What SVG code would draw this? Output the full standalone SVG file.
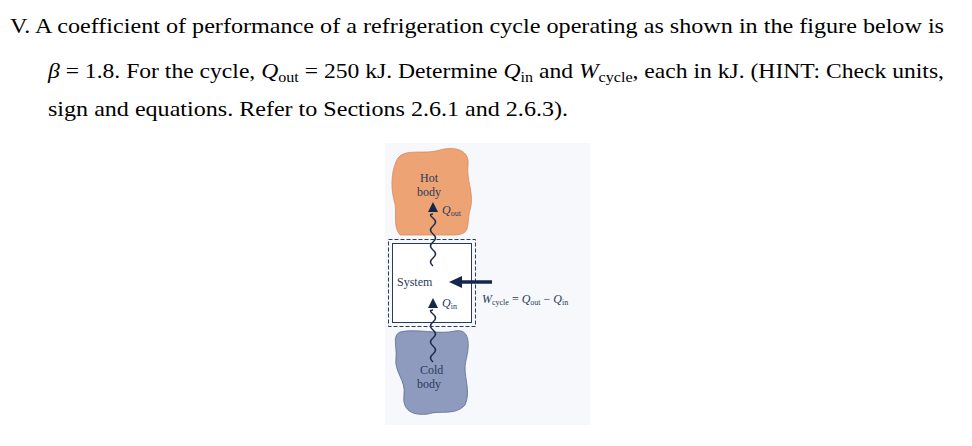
<svg xmlns="http://www.w3.org/2000/svg" width="972" height="446" viewBox="0 0 972 446">
<style>
.t{font-family:"Liberation Serif",serif;font-size:22px;fill:#000}
.f{font-family:"Liberation Serif",serif;font-size:12px;fill:#2a3a5a}
.w{fill:none;stroke:#1e2a4a;stroke-width:1.6}
.h{fill:#14264e}
</style>
<rect width="972" height="446" fill="#fff"/>
<text class="t" x="10" y="33" textLength="934" lengthAdjust="spacingAndGlyphs">V. A coefficient of performance of a refrigeration cycle operating as shown in the figure below is</text>
<text class="t" x="48" y="78" textLength="896" lengthAdjust="spacingAndGlyphs"><tspan font-style="italic">β</tspan> = 1.8. For the cycle, <tspan font-style="italic">Q</tspan><tspan font-size="15" dy="4">out</tspan><tspan dy="-4"> = 250 kJ. Determine </tspan><tspan font-style="italic">Q</tspan><tspan font-size="15" dy="4">in</tspan><tspan dy="-4"> and </tspan><tspan font-style="italic">W</tspan><tspan font-size="15" dy="4">cycle</tspan><tspan dy="-4">, each in kJ. (HINT: Check units,</tspan></text>
<text class="t" x="48" y="116" textLength="520" lengthAdjust="spacingAndGlyphs">sign and equations. Refer to Sections 2.6.1 and 2.6.3).</text>
<rect x="385" y="143" width="205" height="282" fill="#f6f8fb"/>
<g id="hot"><path d="M398,158 C405,148 425,155 440,150 C455,146 470,150 468,165 C466,180 475,195 470,210 C466,225 472,234 455,235 L400,235 C392,225 398,212 394,200 C390,185 392,168 398,158Z" fill="#eea374" stroke="#d88a5a" stroke-width="0.8"/>
<text class="f" x="420" y="182">Hot</text><text class="f" x="417" y="196">body</text></g>
<g id="system"><rect x="388.5" y="239.5" width="87" height="87" fill="none" stroke="#2a3a5a" stroke-dasharray="4,2"/>
<rect x="392.5" y="243.5" width="79" height="79" fill="#fff" stroke="#2a3a5a"/>
<text class="f" x="397" y="286">System</text></g>
<g id="cold"><path d="M400,332 C415,328 440,335 455,331 C470,328 470,345 466,360 C462,375 472,390 465,405 C455,416 440,410 428,414 C412,416 402,410 404,395 C406,380 394,372 396,358 C397,345 392,336 400,332Z" fill="#8e9bbf" stroke="#5c6a90" stroke-width="0.8"/>
<text class="f" x="420" y="374">Cold</text><text class="f" x="417" y="388">body</text></g>
<g id="connectors">
<path class="w" d="M433,266 q-5,-4 0,-8 q5,-4 0,-8 q-5,-4 0,-8 q5,-4 0,-8 q-5,-4 0,-8 q5,-4 0,-8 q-5,-4 0,-4"/>
<path class="h" d="M433,202 L438,212 L428,212Z"/>
<path class="w" d="M433,362 q-5,-4 0,-8 q5,-4 0,-8 q-5,-4 0,-8 q5,-4 0,-8 q-5,-4 0,-8 q5,-4 0,-8 q-5,-4 0,-4"/>
<path class="h" d="M433,298 L438,308 L428,308Z"/>
<line x1="492" y1="282" x2="460" y2="282" stroke="#14264e" stroke-width="3.5"/>
<path class="h" d="M449,282 L462,276 L462,288Z"/>
</g>
<text class="f" x="442" y="214" font-style="italic">Q<tspan font-size="8" font-style="normal" dy="2">out</tspan></text>
<text class="f" x="442" y="307" font-style="italic">Q<tspan font-size="8" font-style="normal" dy="2">in</tspan></text>
<text class="f" x="482" y="303" font-style="italic">W<tspan font-size="8" font-style="normal" dy="2">cycle</tspan><tspan font-style="normal" dy="-2"> = </tspan>Q<tspan font-size="8" font-style="normal" dy="2">out</tspan><tspan font-style="normal" dy="-2"> − </tspan>Q<tspan font-size="8" font-style="normal" dy="2">in</tspan></text>
</svg>
